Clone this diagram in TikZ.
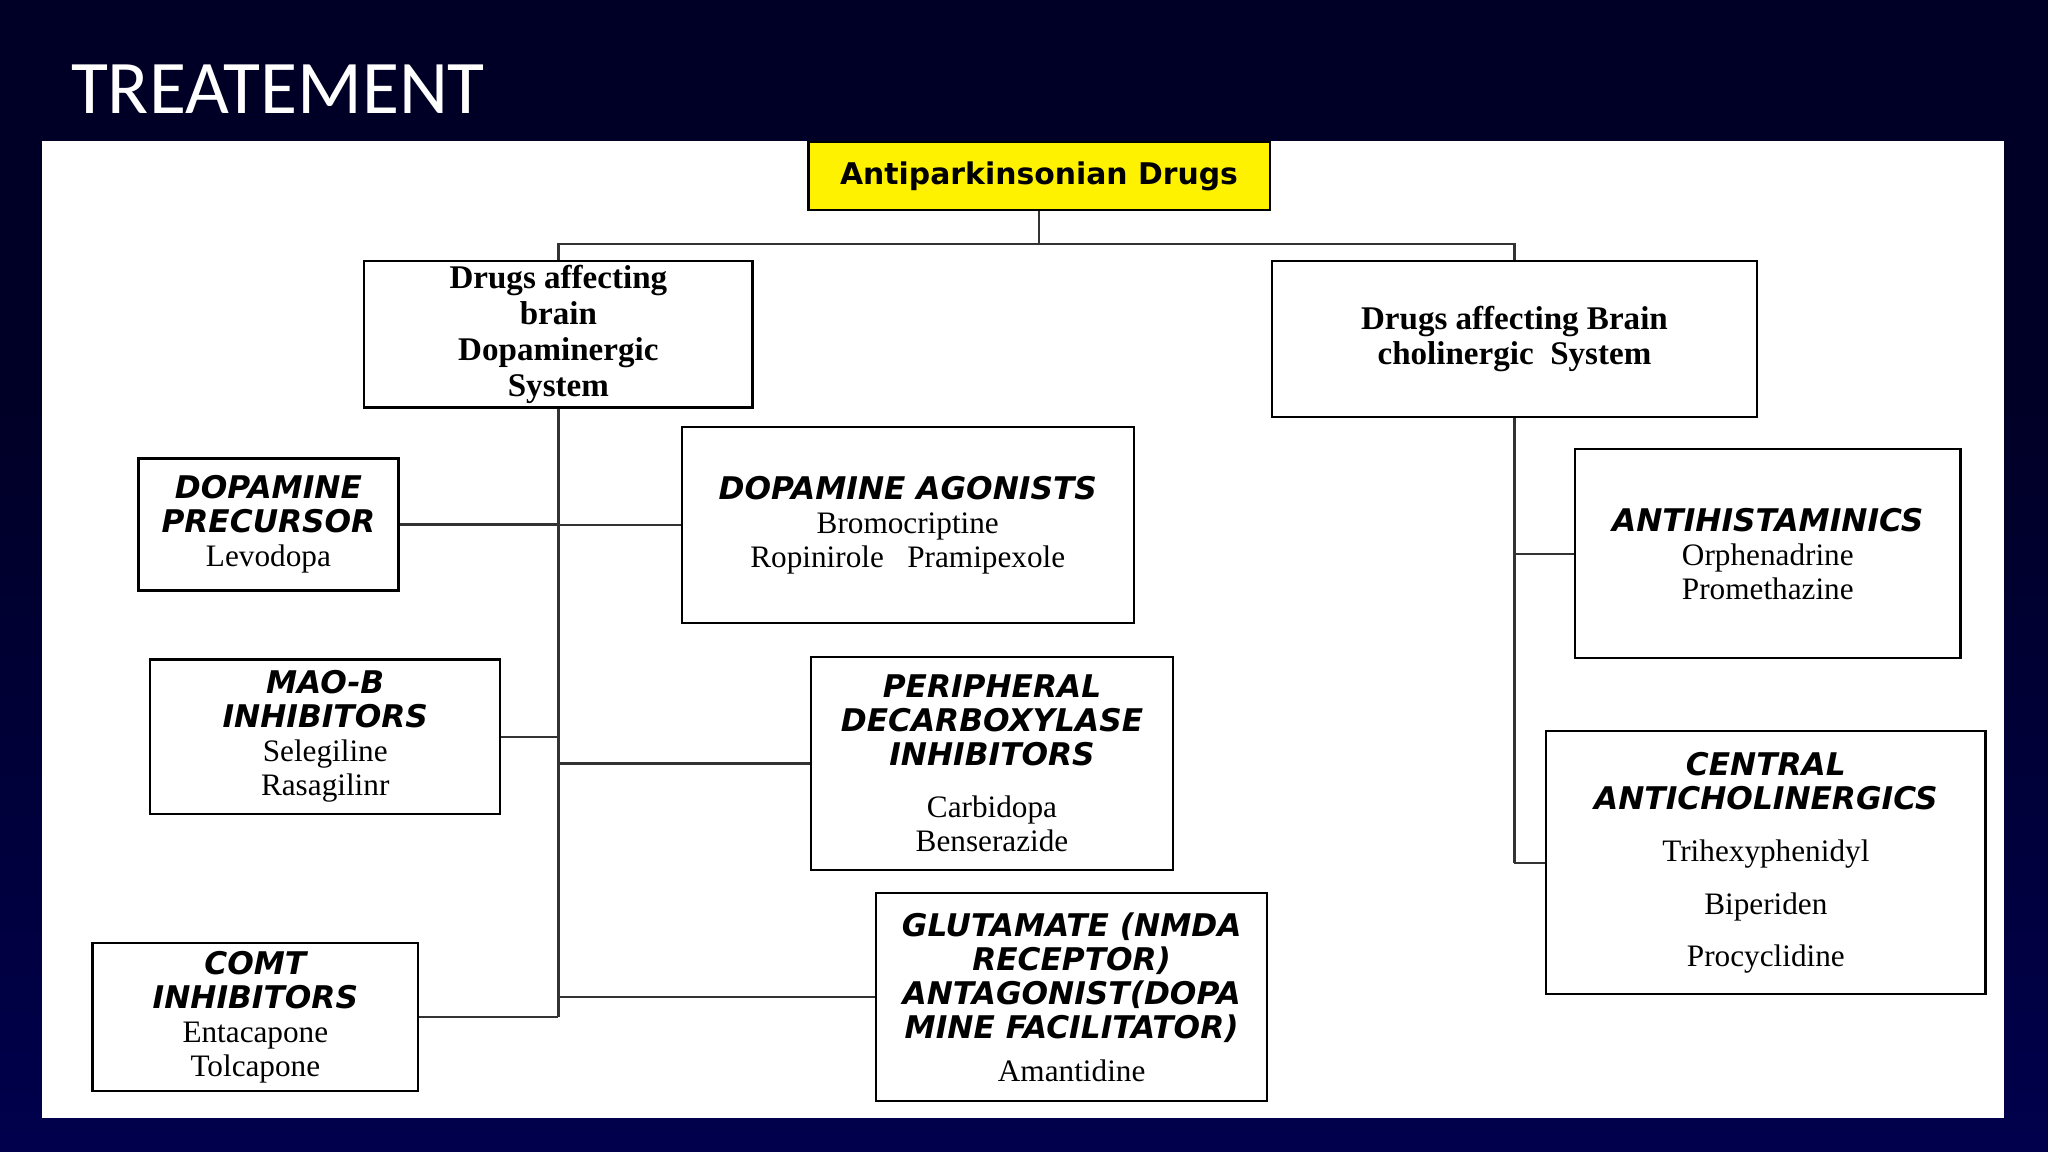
\documentclass[tikz,border=0pt]{standalone}
\usepackage{fontspec}
\setmainfont{Liberation Serif}
\newfontfamily\hdr{DejaVu Sans}
\newfontfamily\ttl{Carlito}
\begin{document}
\begin{tikzpicture}[x=0.01cm,y=-0.01cm,
  bx/.style={draw=black,line width=0.5pt,fill=white,inner sep=0pt,align=center,font=\fontsize{6.8}{7.4}\selectfont},
  ln/.style={draw=black!80,line width=0.5pt}]
\useasboundingbox (0,0) rectangle (1568,882);
\shade[top color=black!85!blue!60, bottom color=blue!30!black!90] (0,0) rectangle (1568,882);
\fill[blue!15!black] (0,0) rectangle (1568,300);
\shade[top color=blue!15!black, bottom color=blue!30!black] (0,300) rectangle (1568,882);
\node[anchor=west,text=white,font=\ttl\fontsize{16.5}{18}\selectfont] (title) at (42,68) {TREATEMENT};
\fill[white] (32,108) rectangle (1534,856);
\newcommand\hh[1]{{\hdr\bfseries\itshape #1}}
\node[bx,fill=yellow,minimum width=3.53cm,minimum height=0.52cm,font=\hdr\bfseries\fontsize{6.5}{7.5}\selectfont] (root) at (795.5,135) {Antiparkinsonian Drugs};
\node[bx,minimum width=2.97cm,minimum height=1.12cm,font=\bfseries\fontsize{7.2}{7.8}\selectfont] (L1) at (427.5,256) {Drugs affecting\\brain\\Dopaminergic\\System};
\node[bx,minimum width=3.71cm,minimum height=1.19cm,font=\bfseries\fontsize{7.2}{7.8}\selectfont] (R1) at (1159.5,259.5) {Drugs affecting Brain\\cholinergic\ \ System};
\node[bx,minimum width=1.99cm,minimum height=1.01cm] (prec) at (205.5,401.5) {\hh{DOPAMINE}\\\hh{PRECURSOR}\\Levodopa};
\node[bx,minimum width=3.46cm,minimum height=1.50cm] (agon) at (695,402) {\hh{DOPAMINE AGONISTS}\\Bromocriptine\\Ropinirole\ \ \ Pramipexole};
\node[bx,minimum width=2.68cm,minimum height=1.18cm] (mao) at (249,564) {\hh{MAO-B}\\\hh{INHIBITORS}\\Selegiline\\Rasagilinr};
\node[bx,minimum width=2.77cm,minimum height=1.63cm] (peri) at (759.5,584.5) {\hh{PERIPHERAL}\\\hh{DECARBOXYLASE}\\\hh{INHIBITORS}\\[4pt]Carbidopa\\Benserazide};
\node[bx,minimum width=2.49cm,minimum height=1.13cm] (comt) at (195.5,778.5) {\hh{COMT}\\\hh{INHIBITORS}\\Entacapone\\Tolcapone};
\node[bx,minimum width=2.99cm,minimum height=1.59cm] (glut) at (820.5,763.5) {\hh{GLUTAMATE (NMDA}\\\hh{RECEPTOR)}\\\hh{ANTAGONIST(DOPA}\\\hh{MINE FACILITATOR)}\\[2pt]Amantidine};
\node[bx,minimum width=2.95cm,minimum height=1.60cm] (anti) at (1353.5,424) {\hh{ANTIHISTAMINICS}\\Orphenadrine\\Promethazine};
\node[bx,minimum width=3.36cm,minimum height=2.01cm] (cent) at (1352,660.5) {\hh{CENTRAL}\\\hh{ANTICHOLINERGICS}\\[4pt]Trihexyphenidyl\\[4pt]Biperiden\\[4pt]Procyclidine};
\coordinate (j) at (795.5,187);
\draw[ln] (root.south) -- (j);
\draw[ln] (L1.north) |- (j);
\draw[ln] (R1.north) |- (j);
\draw[ln] (L1.south) -- (L1.south |- comt.east);
\draw[ln] (prec.east) -- (prec.east -| L1.south);
\draw[ln] (agon.west) -- (agon.west -| L1.south);
\draw[ln] (mao.east) -- (mao.east -| L1.south);
\draw[ln] (peri.west) -- (peri.west -| L1.south);
\draw[ln] (comt.east) -- (comt.east -| L1.south);
\draw[ln] (glut.west) -- (glut.west -| L1.south);
\draw[ln] (R1.south) -- (R1.south |- cent.west);
\draw[ln] (anti.west) -- (anti.west -| R1.south);
\draw[ln] (cent.west) -- (cent.west -| R1.south);
\end{tikzpicture}
\end{document}
